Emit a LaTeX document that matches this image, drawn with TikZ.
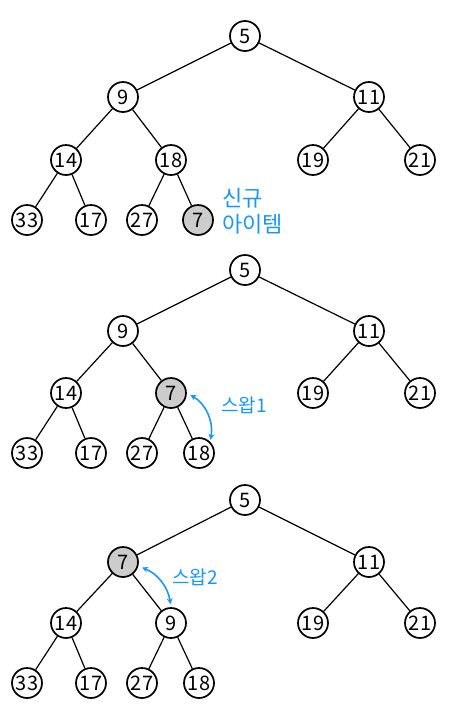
\documentclass[tikz,border=0pt]{standalone}
\usepackage{fontspec}
\setmainfont{Noto Sans CJK KR}
\usepackage{xcolor}
\usepackage{tikz}
\usetikzlibrary{arrows.meta}
\definecolor{swapblue}{RGB}{28,150,240}
\tikzset{
    key/.style={
        circle,
        draw=black,
        line width=1.7pt,
        fill=white,
        minimum size=30pt,
        inner sep=0pt,
        font=\fontsize{20}{20}\selectfont
    },
    newkey/.style={key, fill=gray!40},
    edge/.style={draw, line width=1.2pt},
    swap/.style={{Stealth[length=6pt,width=6pt]}-{Stealth[length=6pt,width=6pt]}, draw=swapblue, line width=1.6pt},
    note/.style={text=swapblue, align=left, inner sep=0pt}
}

\begin{document}
\begin{tikzpicture}[x=1pt, y=-1pt]
    \useasboundingbox (0,0) rectangle (464,710);

    % --- BEFORE: new item appended ---
    \node[key] (five1) at (245,36) {5};
    \node[key] (nine1) at (123,97) {9};
    \node[key] (eleven1) at (369,97) {11};
    \node[key] (fourteen1) at (66,160) {14};
    \node[key] (eighteen1) at (171,160) {18};
    \node[key] (nineteen1) at (313,160) {19};
    \node[key] (twentyone1) at (420,160) {21};
    \node[key] (thirtythree1) at (27,220) {33};
    \node[key] (seventeen1) at (91,220) {17};
    \node[key] (twentyseven1) at (142,220) {27};
    \node[newkey] (seven1) at (198,220) {7};

    \draw[edge] (five1) -- (nine1);
    \draw[edge] (five1) -- (eleven1);
    \draw[edge] (nine1) -- (fourteen1);
    \draw[edge] (nine1) -- (eighteen1);
    \draw[edge] (eleven1) -- (nineteen1);
    \draw[edge] (eleven1) -- (twentyone1);
    \draw[edge] (fourteen1) -- (thirtythree1);
    \draw[edge] (fourteen1) -- (seventeen1);
    \draw[edge] (eighteen1) -- (twentyseven1);
    \draw[edge] (eighteen1) -- (seven1);

    \node[note, anchor=west, font=\fontsize{22}{26}\selectfont] (newitem) at (222,211) {신규\\아이템};

    % --- SWAP 1 ---
    \node[key] (five2) at (245,270) {5};
    \node[key] (nine2) at (123,331) {9};
    \node[key] (eleven2) at (369,331) {11};
    \node[key] (fourteen2) at (66,393) {14};
    \node[newkey] (seven2) at (171,393) {7};
    \node[key] (nineteen2) at (313,393) {19};
    \node[key] (twentyone2) at (420,393) {21};
    \node[key] (thirtythree2) at (27,453) {33};
    \node[key] (seventeen2) at (91,453) {17};
    \node[key] (twentyseven2) at (142,453) {27};
    \node[key] (eighteen2) at (199,453) {18};

    \draw[edge] (five2) -- (nine2);
    \draw[edge] (five2) -- (eleven2);
    \draw[edge] (nine2) -- (fourteen2);
    \draw[edge] (nine2) -- (seven2);
    \draw[edge] (eleven2) -- (nineteen2);
    \draw[edge] (eleven2) -- (twentyone2);
    \draw[edge] (fourteen2) -- (thirtythree2);
    \draw[edge] (fourteen2) -- (seventeen2);
    \draw[edge] (seven2) -- (twentyseven2);
    \draw[edge] (seven2) -- (eighteen2);

    \draw[swap, shorten <=4pt, shorten >=2pt] (seven2.east) to[bend left=35] (eighteen2.north east);
    \node[note, anchor=west, font=\fontsize{19}{19}\selectfont] (swapone) at (221,405) {스왑1};

    % --- SWAP 2 ---
    \node[key] (five3) at (245,500) {5};
    \node[newkey] (seven3) at (123,562) {7};
    \node[key] (eleven3) at (369,562) {11};
    \node[key] (fourteen3) at (66,623) {14};
    \node[key] (nine3) at (171,623) {9};
    \node[key] (nineteen3) at (313,623) {19};
    \node[key] (twentyone3) at (420,623) {21};
    \node[key] (thirtythree3) at (27,683) {33};
    \node[key] (seventeen3) at (91,683) {17};
    \node[key] (twentyseven3) at (142,683) {27};
    \node[key] (eighteen3) at (199,683) {18};

    \draw[edge] (five3) -- (seven3);
    \draw[edge] (five3) -- (eleven3);
    \draw[edge] (seven3) -- (fourteen3);
    \draw[edge] (seven3) -- (nine3);
    \draw[edge] (eleven3) -- (nineteen3);
    \draw[edge] (eleven3) -- (twentyone3);
    \draw[edge] (fourteen3) -- (thirtythree3);
    \draw[edge] (fourteen3) -- (seventeen3);
    \draw[edge] (nine3) -- (twentyseven3);
    \draw[edge] (nine3) -- (eighteen3);

    \draw[swap, shorten <=4pt, shorten >=3pt] (seven3.-15) to[bend left=30] (nine3.north);
    \node[note, anchor=west, font=\fontsize{19}{19}\selectfont] (swaptwo) at (172,577) {스왑2};

\end{tikzpicture}
\end{document}
